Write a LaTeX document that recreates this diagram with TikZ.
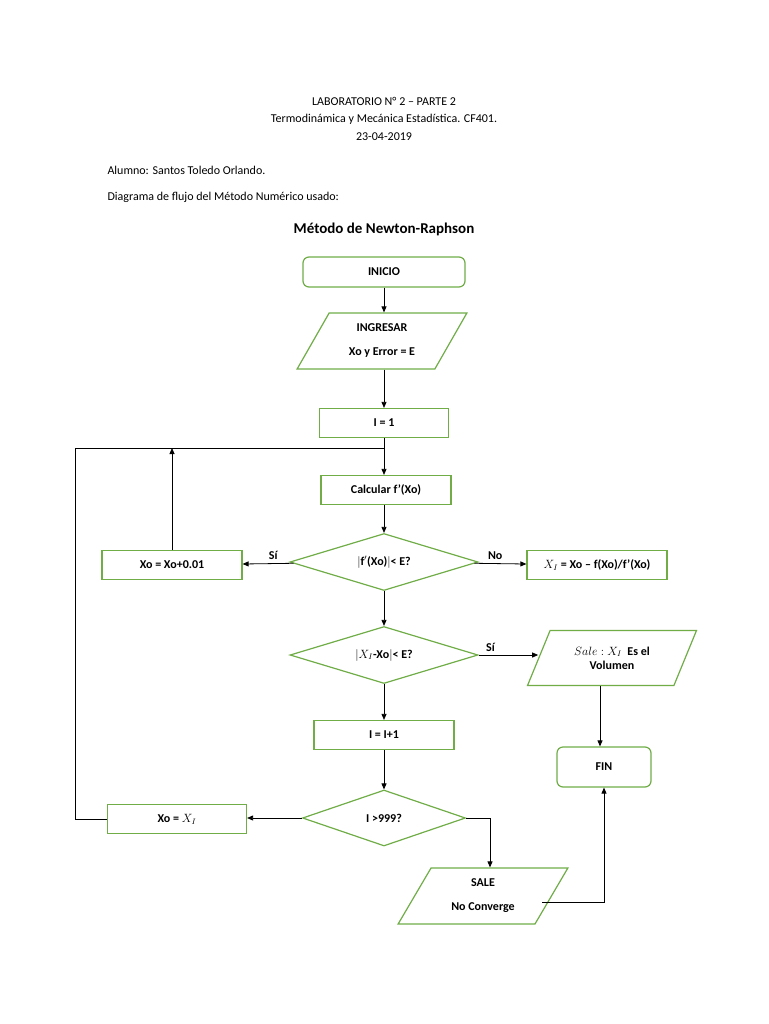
\documentclass[tikz,border=0pt]{standalone}
\usepackage{fontspec}
\setmainfont{Carlito}
\usetikzlibrary{shapes.geometric,arrows.meta}
\definecolor{gr}{RGB}{112,173,71}
\begin{document}
\begin{tikzpicture}[x=1pt,y=-1pt,font=\fontsize{12}{14}\selectfont,
  box/.style={draw=gr,line width=1.2pt,minimum height=29pt,align=center,inner sep=1pt,font=\fontsize{12}{14}\selectfont\bfseries},
  rbox/.style={box,rounded corners=6pt},
  dec/.style={draw=gr,line width=1.2pt,diamond,aspect=3.3,minimum width=188pt,minimum height=57pt,inner sep=0pt,align=center,font=\fontsize{12}{14}\selectfont\bfseries},
  io/.style={draw=gr,line width=1.2pt,trapezium,trapezium left angle=60,trapezium right angle=120,
    trapezium stretches=true,minimum width=170pt,minimum height=56pt,align=center,inner sep=1pt,font=\fontsize{12}{14}\selectfont\bfseries},
  arr/.style={-{Triangle[length=6pt,width=5pt]},line width=0.8pt},
  ln/.style={line width=0.8pt},
  lab/.style={font=\fontsize{12}{14}\selectfont\bfseries}]
\useasboundingbox (0,0) rectangle (768,1024);
\fill[white] (0,0) rectangle (768,1024);
\node (t1) at (384,101) {LABORATORIO N° 2 – PARTE 2};
\node (t2) at (384,119) {Termodinámica y Mecánica Estadística. CF401.};
\node (t3) at (384,137) {23-04-2019};
\node[anchor=west] (al) at (104,170) {Alumno: Santos Toledo Orlando.};
\node[anchor=west] (dg) at (104,197) {Diagrama de flujo del Método Numérico usado:};
\node[font=\fontsize{15}{17}\selectfont\bfseries] (tt) at (384,229) {Método de Newton-Raphson};

\node[rbox,minimum width=162pt,minimum height=30pt] (ini) at (384,272) {INICIO};
\node[io] (ing) at (382,341) {INGRESAR\\[10pt] Xo y Error = E};
\node[box,minimum width=129pt] (i1) at (384,423) {I = 1};
\node[box,minimum width=130pt] (cal) at (386,490) {Calcular f’(Xo)};
\node[dec] (d1) at (384,562) {$|$f$'$(Xo)$|$< E?};
\node[box,minimum width=140pt] (xo1) at (172,565) {Xo = Xo+0.01};
\node[box,minimum width=140pt] (xi) at (597,565) {$X_I$ = Xo – f(Xo)/f’(Xo)};
\node[dec] (d2) at (384,655) {$|X_I$-Xo$|$< E?};
\node[io,minimum width=169pt,minimum height=55pt] (sal) at (612,658) {$Sale:X_I$\ \ Es el\\ Volumen};
\node[box,minimum width=140pt] (inc) at (384,735) {I = I+1};
\node[rbox,minimum width=94pt,minimum height=40pt] (fin) at (604,767) {FIN};
\node[dec,minimum width=163pt,minimum height=56pt,aspect=2.9] (d3) at (384,818) {I >999?};
\node[box,minimum width=139pt] (xo2) at (177,819) {Xo = $X_I$};
\node[io] (nc) at (483,896) {SALE\\[10pt] No Converge};

\coordinate (j) at (384,448);
\coordinate (l1) at (75,448);
\draw[arr] (ini) -- (ini |- ing.north);
\draw[arr] (ing.south -| ini) -- (i1);
\draw[ln] (i1) -- (j);
\draw[arr] (j) -- (j |- cal.north);
\draw[arr] (cal.south -| j) -- (d1);
\draw[arr] (d1) -- node[above,pos=0.4,lab] {Sí} (xo1);
\draw[arr] (d1) -- node[above,pos=0.4,lab] {No} (xi);
\draw[arr] (d1) -- (d2);
\draw[arr] (d2.east) -- node[above,pos=0.2,lab] {Sí} (sal.west |- d2.east);
\draw[arr] (sal.south -| 600,0) -- (fin.north -| 600,0);
\draw[arr] (d2) -- (inc);
\draw[arr] (inc) -- (d3);
\draw[arr] (d3) -- (xo2.east |- d3);
\draw[arr] (d3.east) -| (nc.north -| 490,0);
\draw[arr] (nc.east) ++(-10,6) -| (fin.south);
\draw[ln] (xo2.west) -- (xo2.west -| l1) -- (l1) -- (j);
\draw[arr] (xo1.north) -- (xo1.north |- j);
\end{tikzpicture}
\end{document}
